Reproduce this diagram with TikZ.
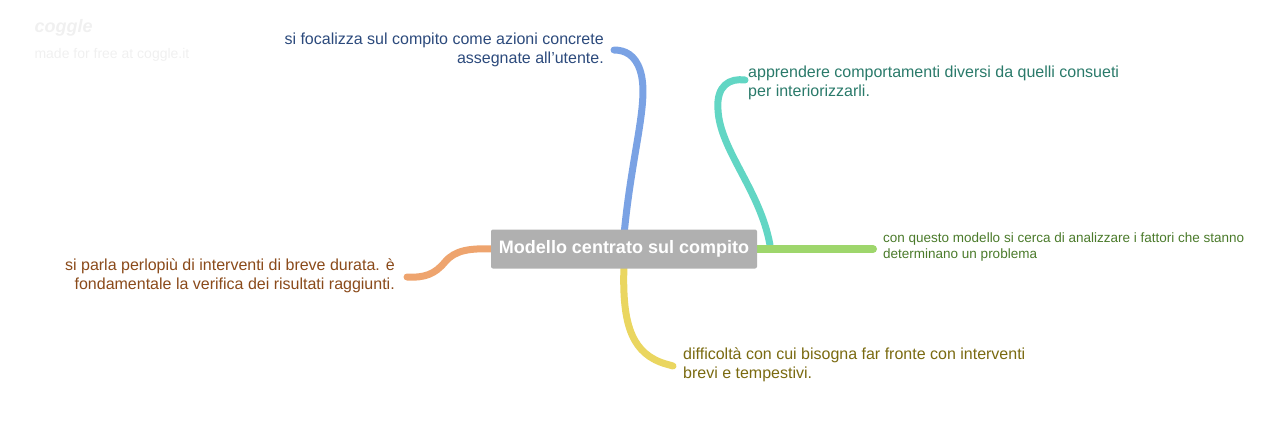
\documentclass[tikz,border=0pt]{standalone}
\usepackage{fontspec}
\setmainfont{Liberation Sans}
\begin{document}
\begin{tikzpicture}[x=1pt,y=-1pt,
  br/.style={line width=7pt,line cap=round},
  lbl/.style={font=\fontsize{16}{18.5}\selectfont,align=left,inner sep=0pt}]
\useasboundingbox (0,0) rectangle (1280,424);
\node[text=gray!12,font=\bfseries\itshape\fontsize{18}{20}\selectfont,anchor=west] (logo) at (31,28) {coggle};
\node[text=gray!12,font=\fontsize{14}{16}\selectfont,anchor=west] (made) at (31,55) {made for free at coggle.it};
\coordinate (bt) at (614,50);
\coordinate (tt) at (745,80);
\coordinate (gt) at (873,249);
\coordinate (yt) at (673,366);
\coordinate (ot) at (407,277);
\draw[br,draw={rgb,255:red,122;green,162;blue,228}] (624,235) .. controls (632,150) and (650,100) .. (640,70) .. controls (635,55) and (625,50) .. (bt);
\draw[br,draw={rgb,255:red,98;green,214;blue,196}] (770,245) .. controls (760,190) and (720,150) .. (718,110) .. controls (716,85) and (730,78) .. (tt);
\draw[line width=8pt,line cap=round,draw={rgb,255:red,158;green,214;blue,108}] (757,249) -- (gt);
\draw[br,draw={rgb,255:red,234;green,214;blue,96}] (624,265) .. controls (622,320) and (630,350) .. (660,362) .. controls (665,364) and (670,365) .. (yt);
\draw[br,draw={rgb,255:red,238;green,164;blue,110}] (495,249) .. controls (470,248) and (455,250) .. (445,262) .. controls (435,274) and (425,278) .. (ot);
\node[fill={rgb,255:red,176;green,176;blue,176},rounded corners=2pt,text=white,font=\bfseries\fontsize{18}{20}\selectfont,minimum width=266pt,minimum height=39pt,inner sep=0pt] (c) at (624,249) {Modello centrato sul compito};
\node[lbl,align=right,anchor=north east,text={rgb,255:red,44;green,74;blue,124}] (b) at (604,33) {si focalizza sul compito come azioni concrete\\assegnate all'utente.};
\node[lbl,anchor=north west,text={rgb,255:red,42;green,122;blue,106}] (t) at (748,66) {apprendere comportamenti diversi da quelli consueti\\per interiorizzarli.};
\node[lbl,anchor=north west,font=\fontsize{13.5}{16}\selectfont,text={rgb,255:red,74;green,122;blue,42}] (g) at (883,233) {con questo modello si cerca di analizzare i fattori che stanno\\determinano un problema};
\node[lbl,anchor=north west,text={rgb,255:red,122;green,106;blue,16}] (y) at (683,348) {difficoltà con cui bisogna far fronte con interventi\\brevi e tempestivi.};
\node[lbl,align=right,anchor=north east,text={rgb,255:red,138;green,74;blue,26}] (o) at (395,259) {si parla perlopiù di interventi di breve durata. è\\fondamentale la verifica dei risultati raggiunti.};
\end{tikzpicture}
\end{document}
